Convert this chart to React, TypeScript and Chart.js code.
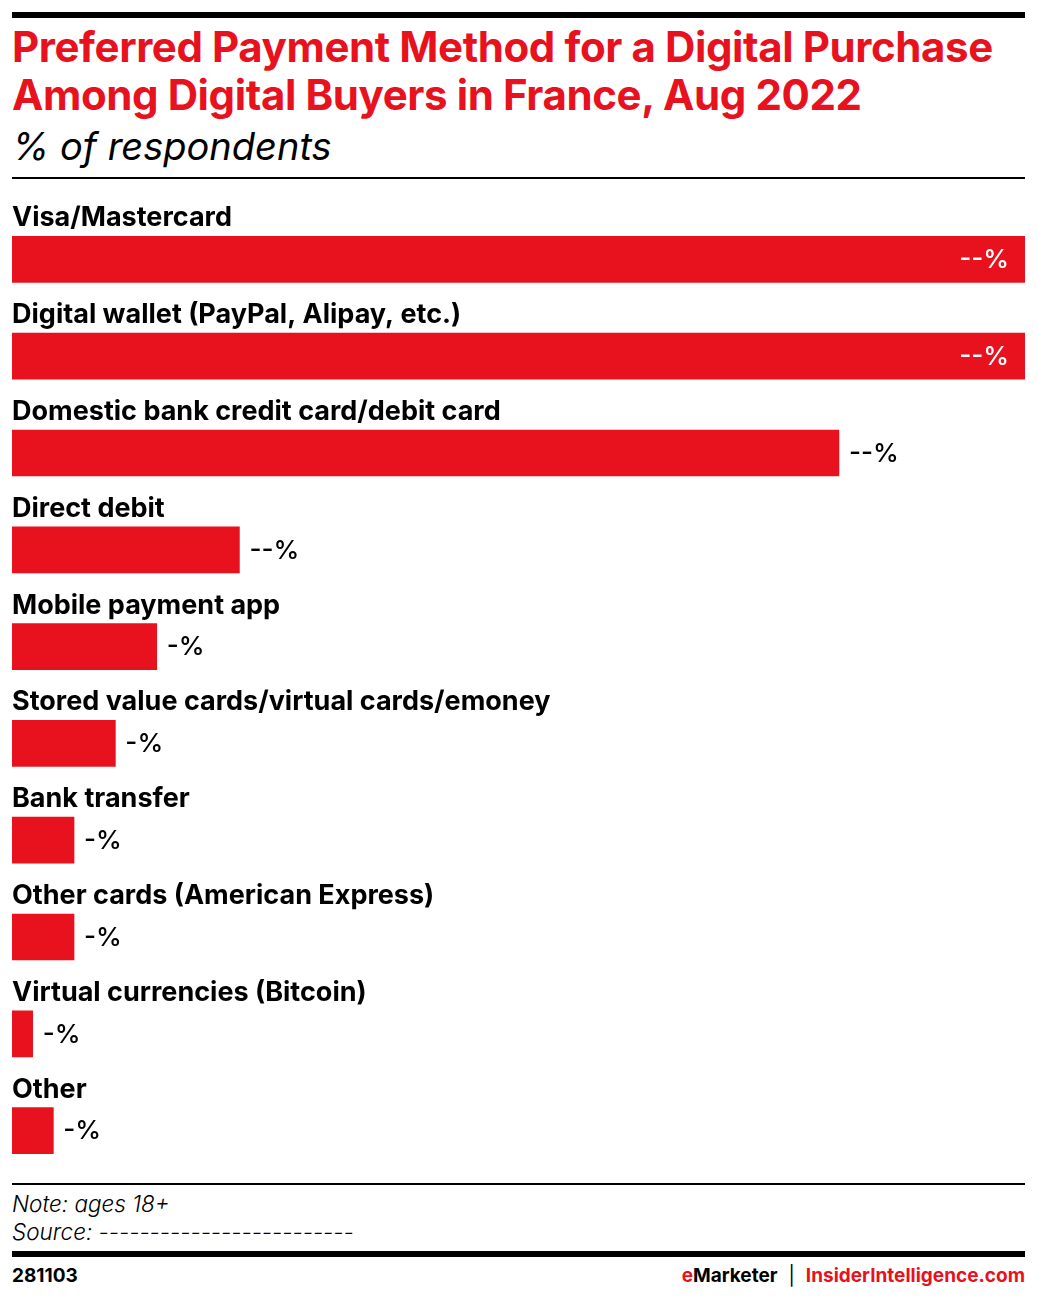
import React, { useEffect, useRef } from "react";
import { Chart, registerables } from "chart.js";

Chart.register(...registerables);

const categories = [
  "Visa/Mastercard",
  "Digital wallet (PayPal, Alipay, etc.)",
  "Domestic bank credit card/debit card",
  "Direct debit",
  "Mobile payment app",
  "Stored value cards/virtual cards/emoney",
  "Bank transfer",
  "Other cards (American Express)",
  "Virtual currencies (Bitcoin)",
  "Other",
];
const values = [49, 49, 40, 11, 7, 5, 3, 3, 1, 2];
const valueLabels = ["--%", "--%", "--%", "--%", "-%", "-%", "-%", "-%", "-%", "-%"];

const RED = "#E8111E";
const FONT = "Inter, 'Noto Sans', sans-serif";

const labelPlugin = {
  id: "barLabels",
  afterDatasetsDraw(chart: any) {
    const ctx = chart.ctx;
    const meta = chart.getDatasetMeta(0);
    const area = chart.chartArea;
    ctx.save();
    meta.data.forEach((bar: any, i: number) => {
      const top = bar.y - bar.height / 2;
      ctx.font = `700 27px ${FONT}`;
      ctx.fillStyle = "#000";
      ctx.textAlign = "left";
      ctx.textBaseline = "alphabetic";
      ctx.fillText(categories[i], area.left, top - 10);
      ctx.font = `500 26px ${FONT}`;
      ctx.textBaseline = "middle";
      const w = ctx.measureText(valueLabels[i]).width;
      if (bar.x + 10 + w > area.right) {
        ctx.fillStyle = "#fff";
        ctx.textAlign = "right";
        ctx.fillText(valueLabels[i], bar.x - 16, bar.y + 1);
      } else {
        ctx.fillStyle = "#000";
        ctx.textAlign = "left";
        ctx.fillText(valueLabels[i], bar.x + 10, bar.y + 1);
      }
    });
    ctx.restore();
  },
};

function BarChart() {
  const ref = useRef<HTMLCanvasElement>(null);
  useEffect(() => {
    if (!ref.current) return;
    const chart = new Chart(ref.current, {
      type: "bar",
      data: {
        labels: categories,
        datasets: [
          {
            data: values,
            backgroundColor: RED,
            borderWidth: 0,
            barThickness: 46,
          },
        ],
      },
      options: {
        indexAxis: "y",
        animation: false,
        responsive: false,
        devicePixelRatio: 1,
        layout: { padding: { left: 12, right: 13, top: 21, bottom: 0 } },
        plugins: { legend: { display: false }, tooltip: { enabled: false } },
        scales: {
          x: { display: false, min: 0, max: 49 },
          y: { display: false },
        },
      },
      plugins: [labelPlugin],
    });
    return () => chart.destroy();
  }, []);
  return (
    <canvas
      ref={ref}
      width={1038}
      height={989}
      style={{ position: "absolute", left: 0, top: 190, width: 1038, height: 989 }}
    />
  );
}

export default function App() {
  useEffect(() => {
    document.body.style.margin = "0";
  }, []);
  const abs = (s: React.CSSProperties): React.CSSProperties => ({ position: "absolute", ...s });
  return (
    <div style={{ position: "relative", width: 1038, height: 1300, background: "#fff", fontFamily: FONT, overflow: "hidden" }}>
      <div style={abs({ left: 12, top: 12, width: 1013, height: 6, background: "#000" })} />
      <div
        style={abs({
          left: 12,
          top: 23,
          color: RED,
          fontWeight: 700,
          fontSize: 42,
          lineHeight: "48px",
          letterSpacing: -0.4,
          whiteSpace: "nowrap",
        })}
      >
        Preferred Payment Method for a Digital Purchase
        <br />
        Among Digital Buyers in France, Aug 2022
      </div>
      <div style={abs({ left: 12, top: 122, fontStyle: "italic", fontSize: 38, lineHeight: "48px", color: "#000", fontWeight: 400 })}>
        % of respondents
      </div>
      <div style={abs({ left: 12, top: 177, width: 1013, height: 2, background: "#000" })} />
      <BarChart />
      <div style={abs({ left: 12, top: 1183, width: 1013, height: 2, background: "#000" })} />
      <div style={abs({ left: 12, top: 1190, fontStyle: "italic", fontSize: 22.5, lineHeight: "28px", color: "#000", fontWeight: 300 })}>
        Note: ages 18+
        <br />
        Source: -------------------------
      </div>
      <div style={abs({ left: 12, top: 1251, width: 1013, height: 6, background: "#000" })} />
      <div style={abs({ left: 12, top: 1264, fontSize: 19, fontWeight: 700, lineHeight: "24px", color: "#000" })}>281103</div>
      <div style={abs({ right: 13, top: 1264, fontSize: 19, fontWeight: 700, lineHeight: "24px", whiteSpace: "nowrap" })}>
        <span style={{ color: RED }}>e</span>
        <span style={{ color: "#000" }}>Marketer</span>
        <span style={{ color: "#000", fontWeight: 400, margin: "0 11px" }}>|</span>
        <span style={{ color: RED }}>InsiderIntelligence.com</span>
      </div>
    </div>
  );
}
